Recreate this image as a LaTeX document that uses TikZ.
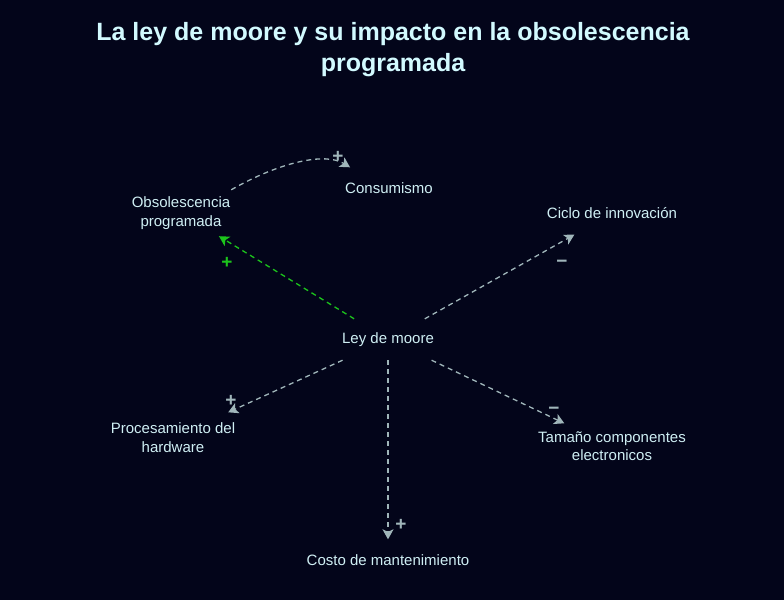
\documentclass[tikz,border=0pt]{standalone}
\usepackage{fontspec}
\setmainfont{Liberation Sans}
\usetikzlibrary{arrows.meta}
\definecolor{bg}{HTML}{03051A}
\definecolor{lbl}{HTML}{CFEFF4}
\definecolor{ttl}{HTML}{D2FAFF}
\definecolor{edg}{HTML}{A0B6BA}
\definecolor{grn}{HTML}{1CC41C}
\begin{document}
\begin{tikzpicture}[x=1pt,y=-1pt,
  lab/.style={text=lbl, font=\fontsize{15}{18.5}\selectfont, align=center, inner sep=0pt, minimum height=42pt},
  link/.style={draw=edg, line width=1.3pt, dash pattern=on 5pt off 4pt,
    -{Stealth[length=10pt,width=11pt,inset=2.5pt]}},
  greenlink/.style={link, draw=grn},
  sign/.style={text=edg, font=\fontsize{19}{19}\selectfont\bfseries, inner sep=0pt},
  greensign/.style={sign, text=grn}]
\fill[bg] (0,0) rectangle (784,600);
\useasboundingbox (0,0) rectangle (784,600);

\node[text=ttl, font=\fontsize{25}{31}\selectfont\bfseries, align=center] (title) at (393,50)
  {La ley de moore y su impacto en la obsolescencia\\programada};

\node[lab, minimum width=90pt, minimum height=41pt] (ley) at (388,339.5) {Ley de moore};
\node[lab, minimum width=100pt, minimum height=46pt] (obs) at (181,213) {Obsolescencia\\programada};
\node[lab] (cons) at (389,188.5) {Consumismo};
\node[lab] (ciclo) at (612,213.5) {Ciclo de innovación};
\node[lab, minimum height=50pt] (proc) at (173,437.5) {Procesamiento del\\hardware};
\node[lab, minimum height=45pt] (tam) at (612,446) {Tamaño componentes\\electronicos};
\node[lab] (costo) at (388,560.5) {Costo de mantenimiento};

\draw[greenlink] (ley) -- (obs);
\draw[link] (ley) -- (ciclo);
\draw[link] (ley) -- (proc);
\draw[link] (ley) -- (tam);
\draw[link] (ley) -- (costo);
\draw[link] (obs.north east) .. controls (280,162) and (325,152) .. ([xshift=5pt]cons.north west);

\node[sign] (s1) at (338,157) {+};
\node[greensign] (s2) at (227,263) {+};
\node[sign] (s3) at (562,264) {−};
\node[sign] (s4) at (231,401) {+};
\node[sign] (s5) at (554,411) {−};
\node[sign] (s6) at (401,525) {+};
\end{tikzpicture}
\end{document}
